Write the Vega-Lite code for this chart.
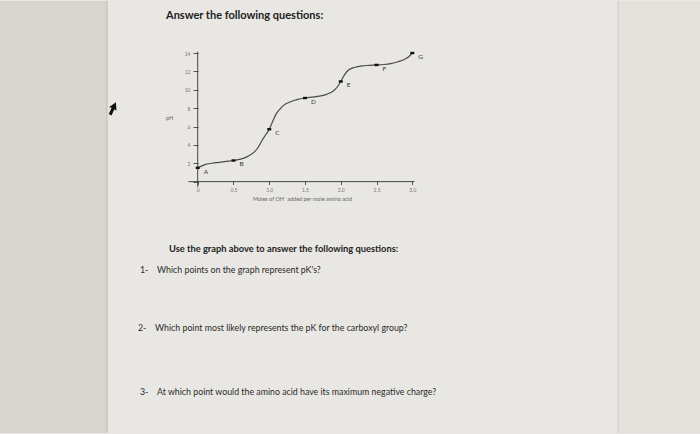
{
  "$schema": "https://vega.github.io/schema/vega-lite/v6.json",
  "width": 700,
  "height": 434,
  "autosize": {"type": "fit", "contains": "padding"},
  "padding": 0,
  "background": "#e9e7e3",
  "config": {"view": {"stroke": null}, "font": "Lato"},
  "datasets": {
    "curve": [
      {"moles": 0, "pH": 1.5}, {"moles": 0.1, "pH": 1.85}, {"moles": 0.2, "pH": 2.0}, {"moles": 0.3, "pH": 2.1},
      {"moles": 0.4, "pH": 2.2}, {"moles": 0.5, "pH": 2.3}, {"moles": 0.6, "pH": 2.45}, {"moles": 0.7, "pH": 2.75},
      {"moles": 0.8, "pH": 3.3}, {"moles": 0.85, "pH": 3.8}, {"moles": 0.9, "pH": 4.5}, {"moles": 0.95, "pH": 5.1},
      {"moles": 1.0, "pH": 5.7}, {"moles": 1.05, "pH": 6.6}, {"moles": 1.1, "pH": 7.4}, {"moles": 1.15, "pH": 7.9},
      {"moles": 1.2, "pH": 8.3}, {"moles": 1.3, "pH": 8.7}, {"moles": 1.4, "pH": 8.95}, {"moles": 1.5, "pH": 9.1},
      {"moles": 1.6, "pH": 9.2}, {"moles": 1.7, "pH": 9.3}, {"moles": 1.8, "pH": 9.5}, {"moles": 1.9, "pH": 9.9},
      {"moles": 1.95, "pH": 10.3}, {"moles": 2.0, "pH": 10.9}, {"moles": 2.05, "pH": 11.6}, {"moles": 2.1, "pH": 12.1},
      {"moles": 2.2, "pH": 12.45}, {"moles": 2.3, "pH": 12.6}, {"moles": 2.4, "pH": 12.65}, {"moles": 2.5, "pH": 12.7},
      {"moles": 2.6, "pH": 12.75}, {"moles": 2.7, "pH": 12.85}, {"moles": 2.8, "pH": 13.05}, {"moles": 2.9, "pH": 13.35},
      {"moles": 2.95, "pH": 13.6}, {"moles": 3.0, "pH": 14.0}
    ],
    "points": [
      {"label": "A", "moles": 0, "pH": 1.5},
      {"label": "B", "moles": 0.5, "pH": 2.3},
      {"label": "C", "moles": 1.0, "pH": 5.7},
      {"label": "D", "moles": 1.5, "pH": 9.1},
      {"label": "E", "moles": 2.0, "pH": 10.9},
      {"label": "F", "moles": 2.5, "pH": 12.7},
      {"label": "G", "moles": 3.0, "pH": 14.0}
    ]
  },
  "encoding": {
    "x": {"type": "quantitative", "scale": {"domain": [-2.764, 7.022], "nice": false, "zero": false}},
    "y": {"type": "quantitative", "scale": {"domain": [-27.36, 19.66], "nice": false, "zero": false}}
  },
  "layer": [
    {
      "data": {"values": [{}]},
      "mark": {"type": "rect", "color": "#d8d4ce"},
      "encoding": {"x": {"datum": -2.764}, "x2": {"datum": -1.268}, "y": {"datum": -27.36}, "y2": {"datum": 19.66}}
    },
    {
      "data": {"values": [{}]},
      "mark": {"type": "rect", "color": "#e2e1dc"},
      "encoding": {"x": {"datum": 5.876}, "x2": {"datum": 7.022}, "y": {"datum": -27.36}, "y2": {"datum": 19.66}}
    },
    {
      "data": {"values": [{}]},
      "mark": {"type": "rule", "color": "#bdb9b3", "strokeWidth": 1},
      "encoding": {"x": {"datum": -1.268}, "y": {"datum": -27.36}, "y2": {"datum": 19.66}}
    },
    {
      "data": {"values": [{}]},
      "mark": {"type": "rule", "color": "#cfcdc8", "strokeWidth": 1},
      "encoding": {"x": {"datum": 5.876}, "y": {"datum": -27.36}, "y2": {"datum": 19.66}}
    },
    {
      "data": {"name": "curve"},
      "mark": {"type": "line", "color": "#4a4a4a", "strokeWidth": 1.2, "interpolate": "monotone"},
      "encoding": {
        "x": {"field": "moles", "type": "quantitative",
          "axis": {"values": [0, 0.5, 1, 1.5, 2, 2.5, 3], "offset": -252.5, "domain": false, "grid": false,
            "labelExpr": "datum.value == 0 ? '0' : format(datum.value, '.1f')",
            "labelFontSize": 5, "labelColor": "#777", "labelPadding": 3, "tickSize": 4, "tickColor": "#555",
            "title": "Moles of OH⁻ added per mole amino acid", "titleFontSize": 5.5, "titleFontWeight": "normal",
            "titleColor": "#666", "titleX": 302, "titleY": 18, "titleAnchor": null, "titleAlign": "center", "titleBaseline": "middle"}},
        "y": {"field": "pH", "type": "quantitative",
          "axis": {"values": [0, 1, 2, 3, 4, 5, 6, 7, 8, 9, 10, 11, 12, 13, 14], "offset": -198, "domain": false, "grid": false,
            "labelExpr": "datum.value > 0 && datum.value % 2 == 0 ? datum.label : ''",
            "labelFontSize": 5, "labelColor": "#777", "labelPadding": 3, "tickSize": 5, "tickColor": "#555",
            "title": "pH", "titleAngle": 0, "titleFontSize": 5.5, "titleFontWeight": "normal", "titleColor": "#666",
            "titleX": -29, "titleY": 116, "titleAlign": "center", "titleBaseline": "middle"}}
      }
    },
    {
      "data": {"values": [{}]},
      "mark": {"type": "rule", "color": "#444", "strokeWidth": 1},
      "encoding": {"x": {"datum": 0}, "y": {"datum": -0.6}, "y2": {"datum": 14.15}}
    },
    {
      "data": {"values": [{}]},
      "mark": {"type": "rule", "color": "#444", "strokeWidth": 1},
      "encoding": {"y": {"datum": 0}, "x": {"datum": -0.13}, "x2": {"datum": 3.03}}
    },
    {
      "data": {"name": "points"},
      "mark": {"type": "point", "filled": true, "color": "#111", "opacity": 1, "shape": "M-1,-0.6L1,-0.6L1,0.6L-1,0.6Z", "size": 16},
      "encoding": {"x": {"field": "moles", "type": "quantitative"}, "y": {"field": "pH", "type": "quantitative"}}
    },
    {
      "data": {"name": "points"},
      "mark": {"type": "text", "align": "left", "baseline": "middle", "dx": 6, "dy": 4, "fontSize": 6.5, "color": "#333"},
      "encoding": {"x": {"field": "moles", "type": "quantitative"}, "y": {"field": "pH", "type": "quantitative"}, "text": {"field": "label"}}
    },
    {
      "data": {"values": [{"t": "Answer the following questions:"}]},
      "mark": {"type": "text", "align": "left", "baseline": "middle", "fontSize": 11, "fontWeight": "bold", "color": "#222"},
      "encoding": {"x": {"datum": -0.443}, "y": {"datum": 18.03}, "text": {"field": "t"}}
    },
    {
      "data": {"values": [{"t": "Use the graph above to answer the following questions:"}]},
      "mark": {"type": "text", "align": "left", "baseline": "middle", "fontSize": 9.3, "fontWeight": "bold", "color": "#222"},
      "encoding": {"x": {"datum": -0.401}, "y": {"datum": -7.32}, "text": {"field": "t"}}
    },
    {
      "data": {"values": [{"t": "1-"}]},
      "mark": {"type": "text", "align": "left", "baseline": "middle", "fontSize": 8.8, "color": "#2a2a2a"},
      "encoding": {"x": {"datum": -0.807}, "y": {"datum": -9.59}, "text": {"field": "t"}}
    },
    {
      "data": {"values": [{"t": "Which points on the graph represent pK's?"}]},
      "mark": {"type": "text", "align": "left", "baseline": "middle", "fontSize": 8.8, "color": "#2a2a2a"},
      "encoding": {"x": {"datum": -0.569}, "y": {"datum": -9.59}, "text": {"field": "t"}}
    },
    {
      "data": {"values": [{"t": "2-"}]},
      "mark": {"type": "text", "align": "left", "baseline": "middle", "fontSize": 8.8, "color": "#2a2a2a"},
      "encoding": {"x": {"datum": -0.835}, "y": {"datum": -15.88}, "text": {"field": "t"}}
    },
    {
      "data": {"values": [{"t": "Which point most likely represents the pK for the carboxyl group?"}]},
      "mark": {"type": "text", "align": "left", "baseline": "middle", "fontSize": 8.8, "color": "#2a2a2a"},
      "encoding": {"x": {"datum": -0.597}, "y": {"datum": -15.88}, "text": {"field": "t"}}
    },
    {
      "data": {"values": [{"t": "3-"}]},
      "mark": {"type": "text", "align": "left", "baseline": "middle", "fontSize": 8.8, "color": "#2a2a2a"},
      "encoding": {"x": {"datum": -0.807}, "y": {"datum": -22.92}, "text": {"field": "t"}}
    },
    {
      "data": {"values": [{"t": "At which point would the amino acid have its maximum negative charge?"}]},
      "mark": {"type": "text", "align": "left", "baseline": "middle", "fontSize": 8.8, "color": "#2a2a2a"},
      "encoding": {"x": {"datum": -0.569}, "y": {"datum": -22.92}, "text": {"field": "t"}}
    },
    {
      "data": {"values": [{}]},
      "mark": {"type": "point", "filled": true, "color": "#111", "opacity": 1, "shape": "M0,-1L0.6,0.1L0.22,0L0.22,1L-0.22,1L-0.22,0L-0.6,0.1Z", "angle": 25, "size": 190},
      "encoding": {"x": {"datum": -1.184}, "y": {"datum": 7.96}}
    }
  ]
}
